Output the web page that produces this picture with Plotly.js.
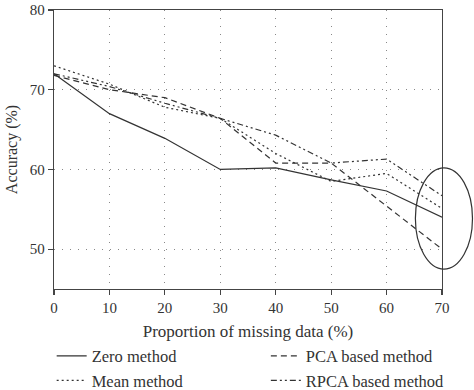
<!DOCTYPE html>
<html>
<head>
<meta charset="utf-8">
<script src="https://cdn.plot.ly/plotly-3.0.1.min.js"></script>
<style>html,body{margin:0;padding:0;background:#fff;}#chart{width:474px;height:390px;}</style>
</head>
<body>
<div id="chart"></div>
<script>
const missing = [0, 10, 20, 30, 40, 50, 60, 70];
const zeroMethod = [72.0, 67.0, 63.9, 60.0, 60.2, 58.7, 57.3, 54.0];
const meanMethod = [73.0, 70.7, 67.8, 66.4, 62.0, 58.5, 59.5, 55.1];
const pcaMethod  = [71.8, 70.0, 69.0, 66.4, 60.8, 60.8, 55.4, 50.0];
const rpcaMethod = [72.0, 70.4, 68.3, 66.4, 64.3, 60.8, 61.3, 56.7];
const seriesNames = ['Zero method', 'Mean method', 'PCA based method', 'RPCA based method'];
const xTicks = [0, 10, 20, 30, 40, 50, 60, 70];
const yTicks = [50, 60, 70, 80];
// highlighted region (ellipse) in data units
const ellipseCenter = [70.35, 53.85];
const ellipseHalf = [5.15, 6.35];

const xRange = [0, 70], yRange = [45, 80];
const col = '#333';
const fam = 'Liberation Serif, Times New Roman, serif';
const font = {family: fam, size: 15, color: '#333'};

const mk = (y, name, dash, lg) => ({
  x: missing, y: y, name: name, type: 'scatter', mode: 'lines', legend: lg,
  line: {color: col, width: 1.2, dash: dash}
});
const traces = [
  mk(zeroMethod, seriesNames[0], 'solid', 'legend'),
  mk(meanMethod, seriesNames[1], '2px,3px', 'legend'),
  mk(pcaMethod, seriesNames[2], '6px,4px', 'legend2'),
  mk(rpcaMethod, seriesNames[3], '6px,3px,2px,3px,2px,3px', 'legend2')
];

const px = v => (v - xRange[0]) / (xRange[1] - xRange[0]);
const py = v => (v - yRange[0]) / (yRange[1] - yRange[0]);

const legFont = {family: fam, size: 16.5, color: '#333'};
const legBase = {
  orientation: 'v', y: -0.178, xanchor: 'left', yanchor: 'top',
  itemwidth: 30, font: legFont, tracegroupgap: 0, bgcolor: 'rgba(0,0,0,0)'
};

const layout = {
  width: 474, height: 390,
  margin: {l: 54, r: 32, t: 10, b: 101, autoexpand: false},
  paper_bgcolor: '#fff', plot_bgcolor: '#fff',
  font: font,
  showlegend: true,
  legend: Object.assign({}, legBase, {x: -0.006}),
  legend2: Object.assign({}, legBase, {x: 0.546}),
  xaxis: {
    range: xRange, tickvals: xTicks, ticktext: xTicks.map(String),
    showline: true, linecolor: '#444', linewidth: 1.2, mirror: true,
    ticks: 'outside', ticklen: 5, tickcolor: '#444', tickwidth: 1.2,
    showgrid: true, gridcolor: '#888', gridwidth: 1.2, griddash: '1px,7px',
    zeroline: false, automargin: false,
    tickfont: {family: fam, size: 15, color: '#333'},
    title: {text: 'Proportion of missing data (%)', font: {family: fam, size: 17, color: '#333'}, standoff: 9}
  },
  yaxis: {
    range: yRange, tickvals: yTicks, ticktext: yTicks.map(String),
    showline: true, linecolor: '#444', linewidth: 1.2, mirror: true,
    ticks: 'outside', ticklen: 5, tickcolor: '#444', tickwidth: 1.2,
    showgrid: true, gridcolor: '#888', gridwidth: 1.2, griddash: '1px,7px',
    zeroline: false, automargin: false,
    tickfont: {family: fam, size: 15, color: '#333'},
    title: {text: 'Accuracy (%)', font: {family: fam, size: 16, color: '#333'}, standoff: 8}
  },
  shapes: [{
    type: 'circle', xref: 'paper', yref: 'paper',
    x0: px(ellipseCenter[0] - ellipseHalf[0]), x1: px(ellipseCenter[0] + ellipseHalf[0]),
    y0: py(ellipseCenter[1] - ellipseHalf[1]), y1: py(ellipseCenter[1] + ellipseHalf[1]),
    line: {color: col, width: 1.2}
  }]
};
Plotly.newPlot('chart', traces, layout, {displayModeBar: false, staticPlot: true});
</script>
</body>
</html>
